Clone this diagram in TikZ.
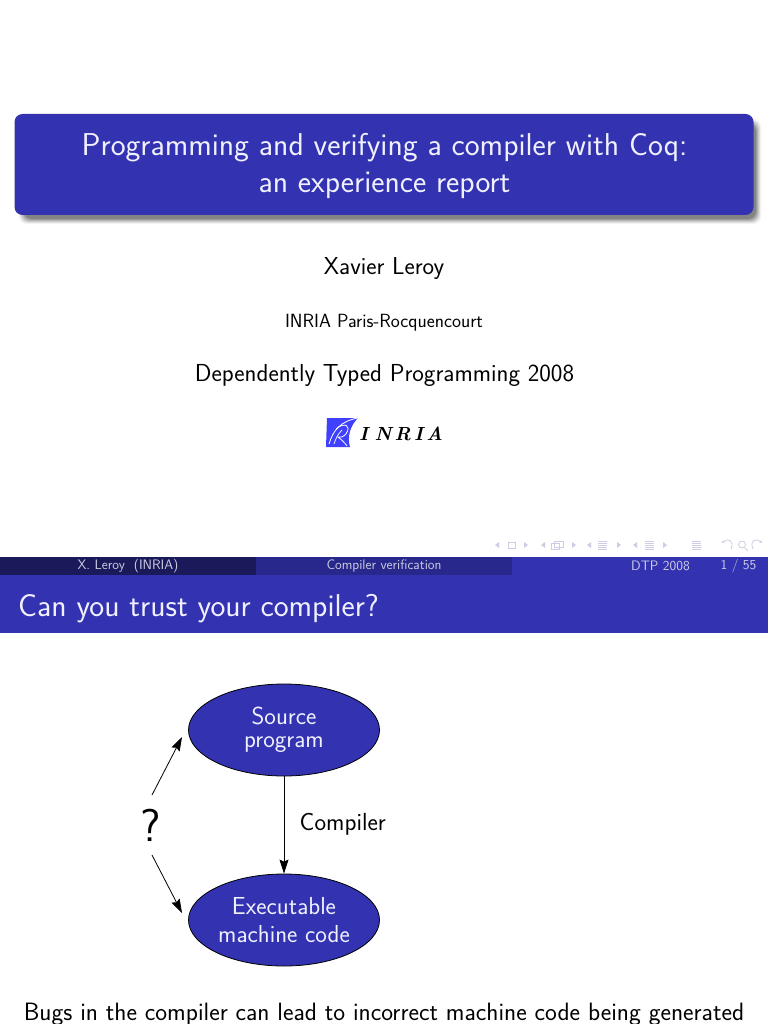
\documentclass[tikz,border=0pt]{standalone}
\usepackage{fontspec}
\usetikzlibrary{shapes.geometric,arrows.meta}
\definecolor{bmblue}{RGB}{51,51,178}
\definecolor{bmdark}{RGB}{26,26,90}
\definecolor{bmmid}{RGB}{40,40,140}
\definecolor{navgray}{RGB}{205,205,228}
\definecolor{fgwhite}{RGB}{240,240,255}
\tikzset{
  x=1pt,y=-1pt,
  ell/.style={ellipse,draw=black,line width=0.8pt,fill=bmblue,text=fgwhite,minimum width=191pt,minimum height=92pt,inner sep=0pt,align=center,font=\sffamily\fontsize{24.6}{23}\selectfont},
  conn/.style={line width=0.8pt,-{Stealth[length=14pt,width=9pt,inset=2pt]}},
  txt/.style={inner sep=0pt,font=\sffamily},
  nav/.style={fill=navgray,draw=none},
  navl/.style={draw=navgray,line width=0.8pt},
  foot/.style={txt,text=navgray,font=\sffamily\fontsize{13.7}{14}\selectfont},
}
\newcommand{\lefttri}[2]{\fill[nav] (#1,#2) -- (#1+4,#2-3) -- (#1+4,#2+3) -- cycle;}
\newcommand{\righttri}[2]{\fill[nav] (#1,#2-3) -- (#1+4,#2) -- (#1,#2+3) -- cycle;}
\newcommand{\navlines}[2]{\foreach \k in {-4,-2,0,2,4} {\draw[navl] (#1,#2+\k) -- (#1+9,#2+\k);}}
\begin{document}
\begin{tikzpicture}
\useasboundingbox (0,0) rectangle (768,1024);
\fill[white] (0,0) rectangle (768,1024);
% title shadow
\foreach \o/\g in {0/0.05,1/0.07,2/0.09,3/0.11,4/0.13,5/0.15}{
  \fill[black,opacity=\g,rounded corners=8pt] (19+\o,119+\o) rectangle (761-\o,224-\o);
}
\node[fill=bmblue,rounded corners=8pt,minimum width=739pt,minimum height=101pt,inner sep=0pt] (titlebox) at (384,164.5) {};
\node[txt,text=fgwhite,font=\sffamily\fontsize{31.6}{37}\selectfont,align=center] (title) at (384.5,166) {Programming and verifying a compiler with Coq:\\an experience report};
\node[txt,font=\sffamily\fontsize{24.5}{26}\selectfont] (author) at (384,268) {Xavier Leroy};
\node[txt,font=\sffamily\fontsize{19.1}{20}\selectfont] (inst) at (384,323) {INRIA Paris-Rocquencourt};
\node[txt,font=\sffamily\fontsize{24.6}{26}\selectfont] (date) at (384.5,375) {Dependently Typed Programming 2008};
% logo
\fill[blue!75!white] (327,418) -- (358,418) .. controls (350,426) and (347,437) .. (350,447) -- (326,447) -- cycle;
\draw[white,line width=0.8pt] (329,444) .. controls (333,430) and (341,421) .. (358,418);
\draw[white,line width=0.8pt] (336,429) .. controls (344,422) and (352,425) .. (346,434) .. controls (343,437) and (340,438) .. (338,437) .. controls (342,440) and (345,443) .. (347,446);
\draw[white,line width=0.7pt] (334,444) .. controls (336,438) and (338,434) .. (342,430);
\node[txt,font=\rmfamily\itshape\bfseries\fontsize{19}{20}\selectfont] (inria) at (401,434) {I\,\,N\,R\,I\,A};
% navigation symbols, first slide
\lefttri{495}{545}\righttri{524}{545}
\draw[navl] (508,542) rectangle (515,548);
\lefttri{541}{545}\righttri{572}{545}
\draw[navl] (551,543) rectangle (559,549);\draw[navl] (554,541) rectangle (563,547);
\lefttri{587}{545}\navlines{598}{545}\righttri{617}{545}
\lefttri{633}{545}\navlines{645}{545}\righttri{663}{545}
\navlines{692}{545}
\draw[navl,-{Stealth[length=3pt,width=3pt]}] (731,549) .. controls (735,540) and (727,538) .. (722,543);
\draw[navl] (742,544.5) circle[radius=3.5pt];\draw[navl] (744.5,547.5) -- (748,551);
\draw[navl,-{Stealth[length=3pt,width=3pt]}] (753,549) .. controls (749,540) and (757,538) .. (762,543);
% footline
\fill[bmdark] (0,557) rectangle (256,575);
\fill[bmmid] (256,557) rectangle (512,575);
\fill[bmblue] (512,557) rectangle (768,633);
\fill[bmblue] (0,575) rectangle (768,633);
\node[foot] (fa) at (128,566) {X. Leroy\ \ (INRIA)};
\node[foot] (fb) at (384,566) {Compiler verification};
\node[foot] (fc) at (660.5,566) {DTP 2008};
\node[foot] (fd) at (738.5,566) {1 / 55};
\node[txt,text=fgwhite,anchor=west,font=\sffamily\fontsize{31.6}{32}\selectfont] (ftitle) at (18,609) {Can you trust your compiler?};
% diagram
\node[ell] (src) at (284,730) {Source\\program};
\node[ell,font=\sffamily\fontsize{24.6}{28}\selectfont] (exe) at (284,920) {Executable\\machine code};
\node[txt,font=\sffamily\fontsize{24.7}{26}\selectfont,anchor=west] (comp) at (299.5,824) {Compiler};
\node[txt,font=\sffamily\fontsize{46}{48}\selectfont] (q) at (151,825) {?};
\coordinate (qa) at (152,795);
\coordinate (qb) at (152,855);
\coordinate (srcin) at (182,737);
\coordinate (exein) at (182,913);
\draw[conn] (src) -- (exe);
\draw[conn] (qa) -- (srcin);
\draw[conn] (qb) -- (exein);
\node[txt,font=\sffamily\fontsize{25.1}{26}\selectfont] (body) at (384,1014) {Bugs in the compiler can lead to incorrect machine code being generated};
\end{tikzpicture}
\end{document}
